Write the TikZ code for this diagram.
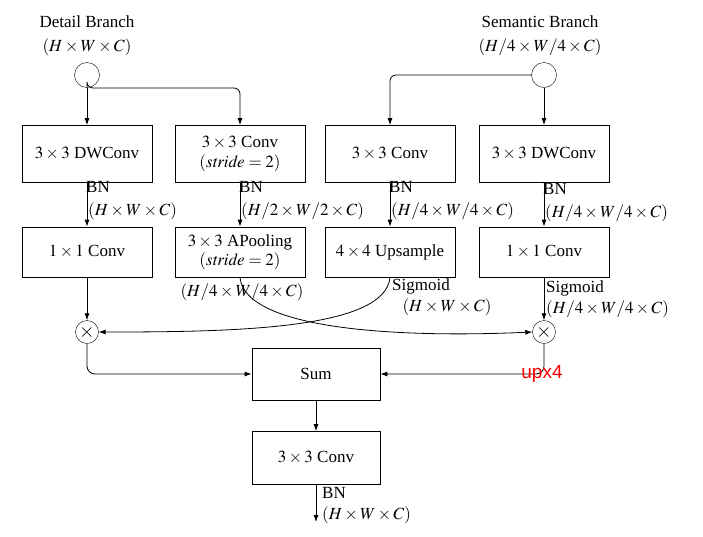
\documentclass[tikz,border=0pt]{standalone}
\usepackage{mathptmx}
\usepackage{fontspec}
\setmainfont{Liberation Serif}
\newfontfamily\sansf{Liberation Sans}
\usetikzlibrary{arrows.meta}
\begin{document}
\begin{tikzpicture}[x=1pt,y=-1pt,font=\fontsize{17}{19.5}\selectfont,
 box/.style={draw,thick,minimum width=130pt,minimum height=57pt,align=center,inner sep=0pt},
 box2/.style={draw,thick,minimum width=130pt,minimum height=50pt,align=center,inner sep=0pt},
 circ/.style={draw,circle,minimum size=23pt,inner sep=0pt},
 arr/.style={thick,-{Latex[length=7pt,width=5pt]}},
 lab/.style={anchor=west,inner sep=1pt}]
\useasboundingbox (0,0) rectangle (703,536);
\node at (87,22) {Detail Branch};
\node at (87,47) {$(H\times W\times C)$};
\node at (540,22) {Semantic Branch};
\node at (540,47) {$(H/4\times W/4\times C)$};
\node[circ,minimum size=25pt] (c1) at (87,75) {};
\node[circ,minimum size=25pt] (c2) at (544,75) {};
\node[box] (a1) at (87,154) {$3\times3$ DWConv};
\node[box] (a2) at (240,154) {$3\times3$ Conv\\$(\mathit{stride}=2)$};
\node[box] (a3) at (390,154) {$3\times3$ Conv};
\node[box] (a4) at (544,154) {$3\times3$ DWConv};
\node[box2] (b1) at (87,252) {$1\times1$ Conv};
\node[box2] (b2) at (240,252) {$3\times3$ APooling\\$(\mathit{stride}=2)$};
\node[box2] (b3) at (390,252) {$4\times4$ Upsample};
\node[box2] (b4) at (544,252) {$1\times1$ Conv};
\node[circ,font=\fontsize{20}{20}\selectfont] (m1) at (87,332) {$\times$};
\node[circ,font=\fontsize{20}{20}\selectfont] (m2) at (544,332) {$\times$};
\node[draw,thick,minimum width=128pt,minimum height=52pt] (s) at (316,374) {Sum};
\node[draw,thick,minimum width=128pt,minimum height=53pt] (f) at (316,458) {$3\times3$ Conv};
\coordinate (out) at (316,522);
\draw[arr] (c1) -- (a1);
\draw[arr,rounded corners=6pt] (c1.south) |- (170,88) -| (a2.north);
\draw[arr] (c2) -- (a4);
\draw[arr,rounded corners=6pt] (c2.west) -- (405,75) -| (a3.north);
\foreach \i in {1,...,4}{\draw[arr] (a\i) -- (b\i);}
\node[lab] at (85,187) {BN};
\node[lab] at (87,211) {$(H\times W\times C)$};
\node[lab] at (238,187) {BN};
\node[lab] at (240,211) {$(H/2\times W/2\times C)$};
\node[lab] at (388,187) {BN};
\node[lab] at (390,211) {$(H/4\times W/4\times C)$};
\node[lab] at (542,189) {BN};
\node[lab] at (544,213) {$(H/4\times W/4\times C)$};
\node at (242,292) {$(H/4\times W/4\times C)$};
\node[lab] at (391,286) {Sigmoid};
\node at (447,307) {$(H\times W\times C)$};
\node[lab] at (545,288) {Sigmoid};
\node[lab] at (545,309) {$(H/4\times W/4\times C)$};
\draw[arr] (b1) -- (m1);
\draw[arr] (b4) -- (m2);
\draw[arr] (b2.south) .. controls (245,330) and (400,338) .. (m2.west);
\draw[arr] (b3.south) .. controls (385,330) and (230,332) .. (m1.east);
\draw[arr,rounded corners=8pt] (m1.south) |- (s.west);
\draw[arr,rounded corners=8pt] (m2.south) |- (s.east);
\node[text=red,font=\sansf\fontsize{19}{21}\selectfont] at (542,374) {upx4};
\draw[arr] (s) -- (f);
\draw[arr] (f) -- (out);
\node[lab] at (321,493) {BN};
\node[lab] at (321,515) {$(H\times W\times C)$};
\end{tikzpicture}
\end{document}
